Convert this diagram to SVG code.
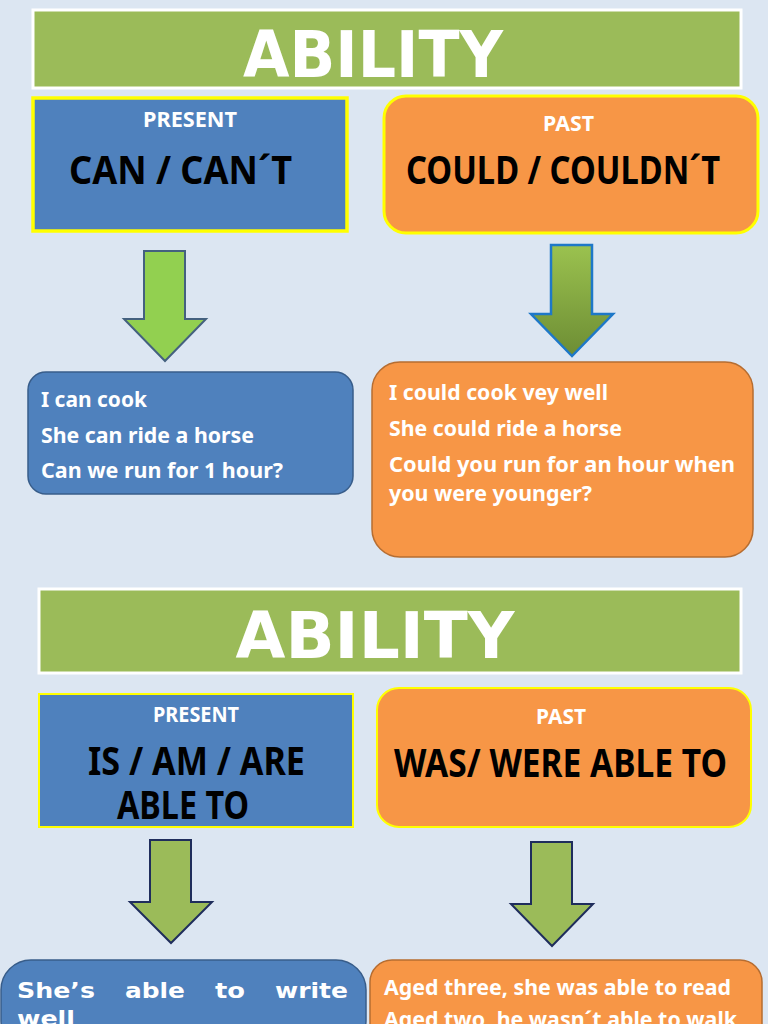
<svg xmlns="http://www.w3.org/2000/svg" width="768" height="1024" viewBox="0 0 768 1024">
<defs>
<linearGradient id="g2" x1="0" y1="0" x2="0" y2="1">
<stop offset="0" stop-color="#9bc24f"/>
<stop offset="1" stop-color="#6d8d34"/>
</linearGradient>
<style>
.banner{fill:#9bbb59;stroke:#ffffff;stroke-width:3}
.title{font-family:"DejaVu Sans",sans-serif;font-weight:bold;fill:#ffffff;font-size:64px;text-anchor:middle}
.blue{fill:#4f81bd}
.orange{fill:#f79646}
.ylw{stroke:#ffff00}
.lbl{font-family:"Noto Sans",sans-serif;fill:#ffffff;font-size:21px;font-weight:bold}
.big{font-family:"Noto Sans",sans-serif;fill:#000000;font-size:39px;font-weight:bold}
.ex{font-family:"Noto Sans",sans-serif;fill:#ffffff;font-size:21px;font-weight:bold}
.exd{font-family:"DejaVu Sans",sans-serif;fill:#ffffff;font-size:22px;font-weight:bold}
</style>
</defs>
<rect width="768" height="1024" fill="#dce6f2"/>

<g id="banner1">
<rect class="banner" x="33" y="10" width="708" height="78"/>
<text class="title" x="373" y="77" textLength="260" lengthAdjust="spacingAndGlyphs">ABILITY</text>
</g>

<g id="present1">
<rect class="blue ylw" x="33" y="98" width="314" height="133" stroke-width="3.5"/>
<text class="lbl" x="143" y="127" textLength="94" lengthAdjust="spacingAndGlyphs">PRESENT</text>
<text class="big" x="69" y="184" textLength="223" lengthAdjust="spacingAndGlyphs">CAN / CAN´T</text>
</g>

<g id="past1">
<rect class="orange ylw" x="384" y="96" width="374" height="137" rx="22" stroke-width="3"/>
<text class="lbl" x="543" y="131" textLength="51" lengthAdjust="spacingAndGlyphs">PAST</text>
<text class="big" x="406" y="184" textLength="314" lengthAdjust="spacingAndGlyphs">COULD / COULDN´T</text>
</g>

<g id="ex-present1">
<rect class="blue" x="28" y="372" width="325" height="122" rx="18" stroke="#385d8a" stroke-width="1.5"/>
<text class="ex" x="41" y="407" textLength="106" lengthAdjust="spacingAndGlyphs">I can cook</text>
<text class="ex" x="41" y="443" textLength="213" lengthAdjust="spacingAndGlyphs">She can ride a horse</text>
<text class="ex" x="41" y="478" textLength="242" lengthAdjust="spacingAndGlyphs">Can we run for 1 hour?</text>
</g>

<g id="ex-past1">
<rect class="orange" x="372" y="362" width="381" height="195" rx="28" stroke="#b66d31" stroke-width="1.5"/>
<text class="ex" x="389" y="400" textLength="219" lengthAdjust="spacingAndGlyphs">I could cook vey well</text>
<text class="ex" x="389" y="436" textLength="233" lengthAdjust="spacingAndGlyphs">She could ride a horse</text>
<text class="ex" x="389" y="472" textLength="346" lengthAdjust="spacingAndGlyphs">Could you run for an hour when</text>
<text class="ex" x="389" y="501" textLength="203" lengthAdjust="spacingAndGlyphs">you were younger?</text>
</g>

<g id="banner2">
<rect class="banner" x="39" y="589" width="702" height="84"/>
<text class="title" x="375" y="658" textLength="279" lengthAdjust="spacingAndGlyphs">ABILITY</text>
</g>

<g id="present2">
<rect class="blue ylw" x="39" y="694" width="314" height="133" stroke-width="2"/>
<text class="lbl" x="153" y="722" textLength="86" lengthAdjust="spacingAndGlyphs">PRESENT</text>
<text class="big" x="88" y="775" textLength="217" lengthAdjust="spacingAndGlyphs">IS / AM / ARE</text>
<text class="big" x="117" y="819" textLength="132" lengthAdjust="spacingAndGlyphs">ABLE TO</text>
</g>

<g id="past2">
<rect class="orange ylw" x="377" y="688" width="374" height="139" rx="22" stroke-width="2"/>
<text class="lbl" x="536" y="724" textLength="50" lengthAdjust="spacingAndGlyphs">PAST</text>
<text class="big" x="394" y="777" textLength="333" lengthAdjust="spacingAndGlyphs">WAS/ WERE ABLE TO</text>
</g>

<g id="ex-present2">
<rect class="blue" x="1" y="960" width="365" height="90" rx="30" stroke="#385d8a" stroke-width="1.5"/>
<text class="exd" x="17" y="998" textLength="78" lengthAdjust="spacingAndGlyphs">She’s</text>
<text class="exd" x="125" y="998" textLength="60" lengthAdjust="spacingAndGlyphs">able</text>
<text class="exd" x="215" y="998" textLength="30" lengthAdjust="spacingAndGlyphs">to</text>
<text class="exd" x="275" y="998" textLength="73" lengthAdjust="spacingAndGlyphs">write</text>
<text class="exd" x="17" y="1026" textLength="58" lengthAdjust="spacingAndGlyphs">well</text>
</g>

<g id="ex-past2">
<rect class="orange" x="370" y="960" width="392" height="90" rx="22" stroke="#b66d31" stroke-width="1.5"/>
<text class="ex" x="384" y="995" textLength="347" lengthAdjust="spacingAndGlyphs">Aged three, she was able to read</text>
<text class="ex" x="384" y="1027" textLength="353" lengthAdjust="spacingAndGlyphs">Aged two, he wasn´t able to walk</text>
</g>

<g id="connectors">
<polygon points="144,251 185,251 185,319 206,319 165,361 124,319 144,319" fill="#92d050" stroke="#44617f" stroke-width="2" stroke-linejoin="miter"/>
<polygon points="551,245 592,245 592,314 613,314 572,356 531,314 551,314" fill="url(#g2)" stroke="#1e78c8" stroke-width="2.5"/>
<polygon points="150,840 191,840 191,902 212,902 171,943 130,902 150,902" fill="#9bbb59" stroke="#1f2d5c" stroke-width="2"/>
<polygon points="531,842 572,842 572,904 593,904 552,946 511,904 531,904" fill="#9bbb59" stroke="#1f2d5c" stroke-width="2"/>
</g>
</svg>
